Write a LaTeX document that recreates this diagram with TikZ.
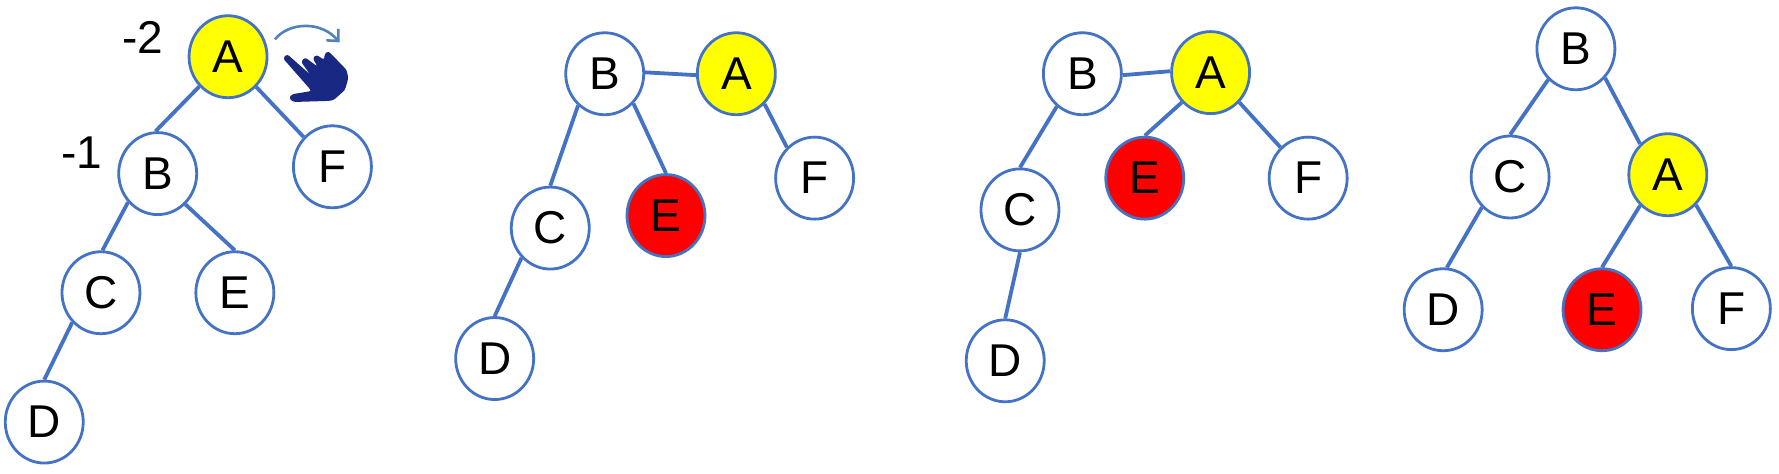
\documentclass[tikz,border=0pt]{standalone}
\usepackage{fontspec}
\setmainfont{Liberation Sans}
\usetikzlibrary{shapes.geometric,arrows.meta}
\definecolor{edgeblue}{RGB}{68,114,196}
\definecolor{handblue}{RGB}{25,40,130}
\definecolor{arcblue}{RGB}{80,130,190}
\definecolor{nodeyellow}{RGB}{255,255,0}
\definecolor{nodered}{RGB}{255,0,0}
\tikzset{
 x=1.1346pt,y=-1.1346pt,
 tn/.style={ellipse,draw=edgeblue,line width=2.8pt,minimum width=78pt,minimum height=82pt,inner sep=0pt,fill=white,font=\fontsize{46}{46}\selectfont},
 yel/.style={tn,fill=nodeyellow},
 rednode/.style={tn,fill=nodered},
 ed/.style={edgeblue,line width=3.8pt},
 lab/.style={inner sep=0pt,font=\fontsize{46}{46}\selectfont},
 arcline/.style={arcblue,line width=2.6pt}
}
\begin{document}
\begin{tikzpicture}
\useasboundingbox (0,0) rectangle (1568,417);
% tree 1
\node[yel] (a1) at (201,50) {A};
\node[tn] (b1) at (139,153) {B};
\node[tn] (c1) at (89,258) {C};
\node[tn] (d1) at (39,372) {D};
\node[tn] (e1) at (207,258) {E};
\node[tn] (f1) at (293,147) {F};
\draw[ed] (a1.226)--(b1.93); \draw[ed] (a1.313)--(f1.134); \draw[ed] (b1.224)--(c1.88); \draw[ed] (b1.312)--(e1.90); \draw[ed] (c1.226)--(d1.90);
\node[lab] (m2) at (126,33) {-2};
\node[lab] (m1) at (72,135) {-1};
% arc and hand, in units of a third of a pixel from (265,15) of the reference
\begin{scope}[shift={(265pt,-15pt)},x=0.3333pt,y=-0.3333pt]
\draw[arcline] (30,73) .. controls (70,22) and (170,15) .. (220,78);
\draw[arcline] (220,42) -- (220,78) -- (184,76);
\path[fill=handblue,rounded corners=2.5pt] (54,130) -- (66,117) -- (135,178) -- (108,140) -- (120,127) -- (158,155) -- (143,130) -- (154,119) -- (178,135) -- (178,118) -- (190,108) -- (245,165) -- (250,190) -- (240,225) -- (205,256) -- (185,258) -- (85,261) -- (72,250) -- (80,238) -- (140,228) -- cycle;
\end{scope}
% tree 2
\node[tn] (b2) at (533,65) {B};
\node[yel] (a2) at (649,65) {A};
\node[tn] (c2) at (485,201) {C};
\node[rednode] (e2) at (587,190) {E};
\node[tn] (f2) at (718,157) {F};
\node[tn] (d2) at (436,316) {D};
\draw[ed] (b2.2)--(a2.182); \draw[ed] (b2.230)--(c2.90); \draw[ed] (b2.314)--(e2.90); \draw[ed] (a2.313)--(f2.132); \draw[ed] (c2.226)--(d2.90);
% tree 3
\node[tn] (b3) at (954,65) {B};
\node[yel] (a3) at (1067,64) {A};
\node[tn] (c3) at (899,185) {C};
\node[rednode] (e3) at (1009,157) {E};
\node[tn] (f3) at (1153,157) {F};
\node[tn] (d3) at (886,318) {D};
\draw[ed] (b3.358)--(a3.178); \draw[ed] (b3.232)--(c3.90); \draw[ed] (a3.226)--(e3.90); \draw[ed] (a3.314)--(f3.132); \draw[ed] (c3.270)--(d3.90);
% tree 4
\node[tn] (b4) at (1389,43) {B};
\node[tn] (c4) at (1331,156) {C};
\node[yel] (a4) at (1470,154) {A};
\node[tn] (d4) at (1272,273) {D};
\node[rednode] (e4) at (1412,273) {E};
\node[tn] (f4) at (1526,272) {F};
\draw[ed] (b4.228)--(c4.90); \draw[ed] (b4.315)--(a4.132); \draw[ed] (c4.227)--(d4.85); \draw[ed] (a4.228)--(e4.90); \draw[ed] (a4.313)--(f4.90);
\end{tikzpicture}
\end{document}
